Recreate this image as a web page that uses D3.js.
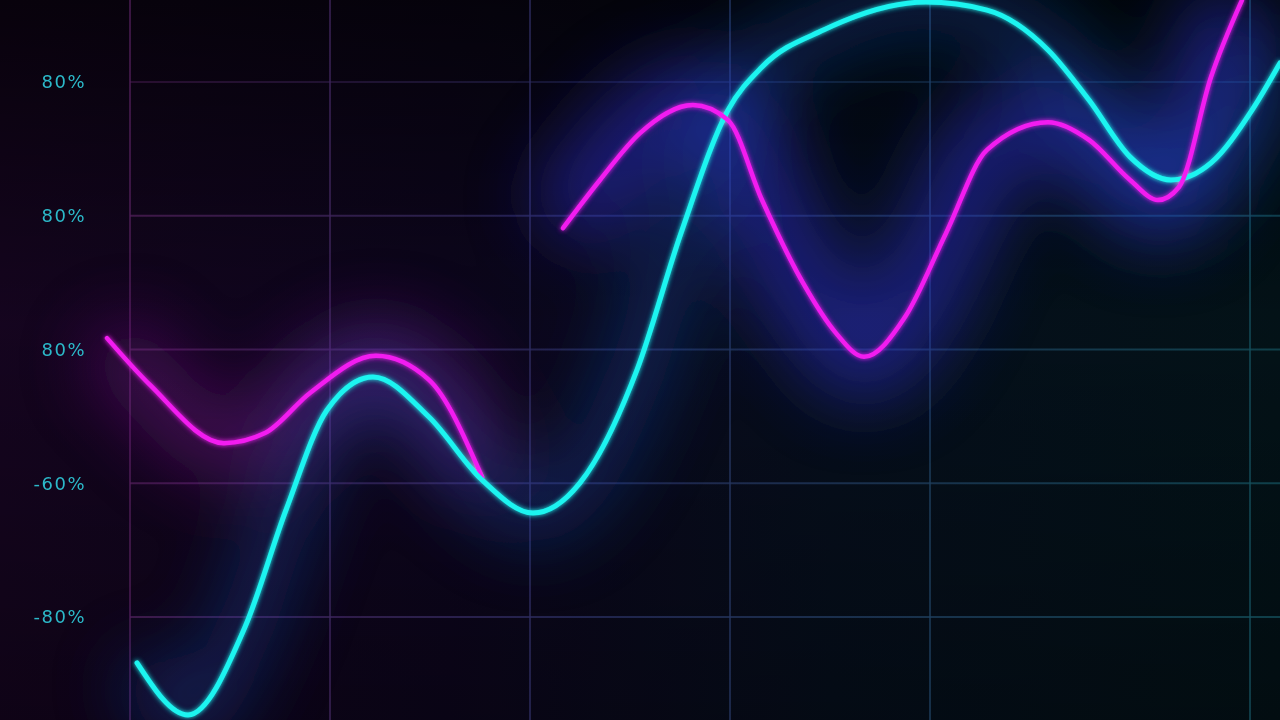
<!DOCTYPE html>
<html>
<head>
<meta charset="utf-8">
<script src="https://cdn.jsdelivr.net/npm/d3@7"></script>
<style>
  html, body { margin: 0; padding: 0; background: #07030c; overflow: hidden; }
  svg { display: block; }
</style>
</head>
<body>
<svg id="chart" width="1280" height="720"></svg>
<script>
// ---- data ----
const yTickValues = [80, 40, 0, -40, -80];
const yTickLabels = ["80%", "80%", "80%", "-60%", "-80%"];
const xGridValues = [0, 1, 2, 3, 4, 5.6];

const cyanX = [0.035, 0.29, 0.575, 0.78, 0.985, 1.215, 1.495, 1.76, 2.015, 2.25, 2.535, 2.755, 2.99, 3.16, 3.47, 3.98, 4.285, 4.59, 4.795, 5.0, 5.205, 5.405, 5.61, 5.75];
const cyanY = [-93.7, -109.3, -83, -48, -18.1, -8.2, -20.2, -39, -48.9, -39.9, -6.1, 34.8, 71.6, 84.5, 95.6, 103.9, 101.5, 89.6, 74.6, 57.6, 50.7, 55.8, 71.6, 85.7];

const magentaAX = [-0.115, 0.1, 0.47, 0.675, 0.9, 1.23, 1.495, 1.76];
const magentaAY = [3.4, -10.6, -28, -25.0, -13, -1.9, -9.1, -38.1];

const magentaBX = [2.165, 2.35, 2.55, 2.815, 2.99, 3.16, 3.365, 3.53, 3.67, 3.875, 4.08, 4.285, 4.59, 4.795, 5.0, 5.14, 5.245, 5.405, 5.56];
const magentaBY = [36.3, 50.7, 64.7, 73.1, 68.6, 44.7, 19.9, 4.9, -2.2, 9.7, 34.8, 59.7, 68, 62.7, 50.7, 44.7, 48.6, 81.5, 104.5];

// ---- setup ----
const W = 1280, H = 720;
const svg = d3.select("#chart");
const defs = svg.append("defs");

const x = d3.scaleLinear().domain([0, 5.75]).range([130, 1280]);
const y = d3.scaleLinear().domain([-80, 80]).range([617, 82]);

// background gradients
const bg = defs.append("linearGradient").attr("id", "bgH").attr("x1", 0).attr("x2", 1).attr("y1", 0).attr("y2", 0);
bg.append("stop").attr("offset", "0%").attr("stop-color", "#170522");
bg.append("stop").attr("offset", "35%").attr("stop-color", "#0e0620");
bg.append("stop").attr("offset", "65%").attr("stop-color", "#06101f");
bg.append("stop").attr("offset", "100%").attr("stop-color", "#03141a");

const shade = defs.append("linearGradient").attr("id", "bgV").attr("x1", 0).attr("x2", 0).attr("y1", 0).attr("y2", 1);
shade.append("stop").attr("offset", "0%").attr("stop-color", "#000").attr("stop-opacity", 0.65);
shade.append("stop").attr("offset", "45%").attr("stop-color", "#000").attr("stop-opacity", 0.1);
shade.append("stop").attr("offset", "100%").attr("stop-color", "#000").attr("stop-opacity", 0.35);

const gridGrad = defs.append("linearGradient").attr("id", "gridGrad")
  .attr("gradientUnits", "userSpaceOnUse").attr("x1", 0).attr("x2", W).attr("y1", 0).attr("y2", 0);
gridGrad.append("stop").attr("offset", "0%").attr("stop-color", "#5a1a55");
gridGrad.append("stop").attr("offset", "45%").attr("stop-color", "#2a2e60");
gridGrad.append("stop").attr("offset", "100%").attr("stop-color", "#14505c");

const blurBig = defs.append("filter").attr("id", "blurBig")
  .attr("x", "-50%").attr("y", "-50%").attr("width", "200%").attr("height", "200%");
blurBig.append("feGaussianBlur").attr("stdDeviation", 34);

const glow = defs.append("filter").attr("id", "glow")
  .attr("x", "-20%").attr("y", "-20%").attr("width", "140%").attr("height", "140%");
glow.append("feGaussianBlur").attr("in", "SourceGraphic").attr("stdDeviation", 2.5).attr("result", "b");
const merge = glow.append("feMerge");
merge.append("feMergeNode").attr("in", "b");
merge.append("feMergeNode").attr("in", "SourceGraphic");

svg.append("rect").attr("width", W).attr("height", H).attr("fill", "url(#bgH)");
svg.append("rect").attr("width", W).attr("height", H).attr("fill", "url(#bgV)");

// ---- grid ----
const grid = svg.append("g").attr("class", "grid");
grid.selectAll("line.v").data(xGridValues).join("line")
  .attr("class", "v")
  .attr("x1", d => x(d)).attr("x2", d => x(d))
  .attr("y1", 0).attr("y2", H)
  .attr("stroke", "url(#gridGrad)").attr("stroke-width", 2).attr("opacity", 0.7);
grid.selectAll("line.h").data(yTickValues).join("line")
  .attr("class", "h")
  .attr("x1", x(0)).attr("x2", W)
  .attr("y1", d => y(d)).attr("y2", d => y(d))
  .attr("stroke", "url(#gridGrad)").attr("stroke-width", 2)
  .attr("opacity", (d, i) => i === 0 ? 0.45 : 0.75);

// ---- lines ----
const line = d3.line().x(d => x(d[0])).y(d => y(d[1])).curve(d3.curveMonotoneX);
const cyan = d3.zip(cyanX, cyanY);
const magA = d3.zip(magentaAX, magentaAY);
const magB = d3.zip(magentaBX, magentaBY);

// soft haze
const haze = svg.append("g").attr("filter", "url(#blurBig)");
haze.append("path").attr("d", line(magA)).attr("fill", "none")
  .attr("stroke", "#8a1aa0").attr("stroke-width", 70).attr("opacity", 0.4);
haze.append("path").attr("d", line(magB)).attr("fill", "none")
  .attr("stroke", "#3330d8").attr("stroke-width", 90).attr("opacity", 0.5);
haze.append("path").attr("d", line(cyan)).attr("fill", "none")
  .attr("stroke", "#1a5ad0").attr("stroke-width", 60).attr("opacity", 0.32);

const lines = svg.append("g").attr("filter", "url(#glow)");
lines.append("path").attr("d", line(magA)).attr("fill", "none")
  .attr("stroke", "#f21cf0").attr("stroke-width", 4.5).attr("stroke-linecap", "round");
lines.append("path").attr("d", line(cyan)).attr("fill", "none")
  .attr("stroke", "#1ff4f0").attr("stroke-width", 5).attr("stroke-linecap", "round");
lines.append("path").attr("d", line(magB)).attr("fill", "none")
  .attr("stroke", "#f21cf0").attr("stroke-width", 4.5).attr("stroke-linecap", "round");

// ---- y axis labels ----
const yAxis = d3.axisLeft(y).tickValues(yTickValues)
  .tickFormat((d, i) => yTickLabels[i]).tickSize(0).tickPadding(44);
const ag = svg.append("g").attr("transform", `translate(${x(0)},0)`).call(yAxis);
ag.select(".domain").remove();
ag.selectAll("text")
  .attr("fill", "#2cb9c9")
  .style("font-family", "'DejaVu Sans', sans-serif")
  .style("font-size", "18px")
  .style("letter-spacing", "1.5px");
</script>
</body>
</html>
